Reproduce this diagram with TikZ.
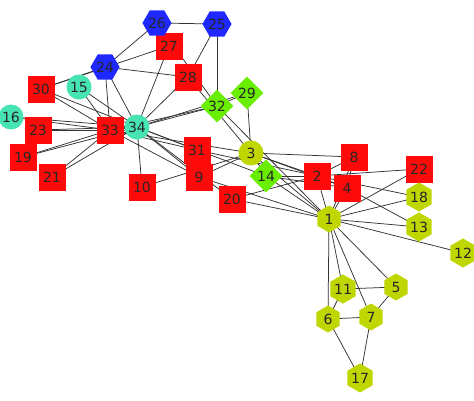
\documentclass[tikz,border=0pt]{standalone}
\usepackage{fontspec}
\setmainfont{DejaVu Sans}
\usetikzlibrary{shapes.geometric,backgrounds}
\definecolor{nred}{RGB}{255,10,10}
\definecolor{nblue}{RGB}{30,40,255}
\definecolor{ncyan}{RGB}{70,228,178}
\definecolor{ngreen}{RGB}{105,238,0}
\definecolor{nyel}{RGB}{192,214,0}
\begin{document}
\begin{tikzpicture}[x=1pt,y=-1pt,
  lab/.style={font=\fontsize{14}{14}\selectfont, text=black!85, inner sep=0pt},
  sq/.style={lab, rectangle, fill=nred, minimum size=27pt},
  hexb/.style={lab, regular polygon, regular polygon sides=6, fill=nblue, minimum size=27pt},
  hexy/.style={lab, regular polygon, regular polygon sides=6, shape border rotate=30, fill=nyel, minimum size=27pt},
  circy/.style={lab, circle, fill=nyel, minimum size=25pt},
  circ/.style={lab, circle, fill=ncyan, minimum size=25pt},
  diam/.style={lab, diamond, aspect=1, fill=ngreen, minimum size=33pt},
  edge/.style={draw=black!80, line width=0.75pt}]
\useasboundingbox (0,0) rectangle (474,400);
\node[sq] (n27) at (169,46) {27};
\node[sq] (n28) at (188,77) {28};
\node[sq] (n30) at (41,89) {30};
\node[sq] (n23) at (38,130) {23};
\node[sq] (n33) at (110,130) {33};
\node[sq] (n19) at (23,157) {19};
\node[sq] (n21) at (52,177) {21};
\node[sq] (n31) at (197,150) {31};
\node[sq] (n9) at (199,177) {9};
\node[sq] (n10) at (142,187) {10};
\node[sq] (n20) at (232,199) {20};
\node[sq] (n8) at (354,157) {8};
\node[sq] (n2) at (317,176) {2};
\node[sq] (n4) at (347,188) {4};
\node[sq] (n22) at (419,169) {22};
\node[hexb] (n26) at (157,23) {26};
\node[hexb] (n25) at (217,24) {25};
\node[hexb] (n24) at (105,67) {24};
\node[circ] (n15) at (79,87) {15};
\node[circ] (n16) at (11,117) {16};
\node[circ] (n34) at (137,127) {34};
\node[diam] (n32) at (217,106) {32};
\node[diam] (n29) at (247,93) {29};
\node[diam] (n14) at (266,176) {14};
\node[circy] (n3) at (251,153) {3};
\node[hexy] (n1) at (329,219) {1};
\node[hexy] (n18) at (419,197) {18};
\node[hexy] (n13) at (419,227) {13};
\node[hexy] (n12) at (463,253) {12};
\node[hexy] (n5) at (396,287) {5};
\node[hexy] (n11) at (343,289) {11};
\node[hexy] (n6) at (328,319) {6};
\node[hexy] (n7) at (371,317) {7};
\node[hexy] (n17) at (360,378) {17};
\begin{pgfonlayer}{background}
\foreach \a/\b in {1/2,1/3,1/4,1/5,1/6,1/7,1/8,1/9,1/11,1/12,1/13,1/14,1/18,1/20,1/22,1/32,
  2/3,2/4,2/8,2/14,2/18,2/20,2/22,2/31,
  3/4,3/8,3/9,3/10,3/14,3/28,3/29,3/33,
  4/8,4/13,4/14,5/7,5/11,6/7,6/11,6/17,7/17,
  9/31,9/33,9/34,10/34,14/34,15/33,15/34,16/33,16/34,19/33,19/34,20/34,21/33,21/34,
  23/33,23/34,24/26,24/28,24/30,24/33,24/34,25/26,25/28,25/32,26/32,27/30,27/34,
  28/34,29/32,29/34,30/33,30/34,31/33,31/34,32/33,32/34,33/34}
  \draw[edge] (n\a.center) -- (n\b.center);
\end{pgfonlayer}
\end{tikzpicture}
\end{document}
